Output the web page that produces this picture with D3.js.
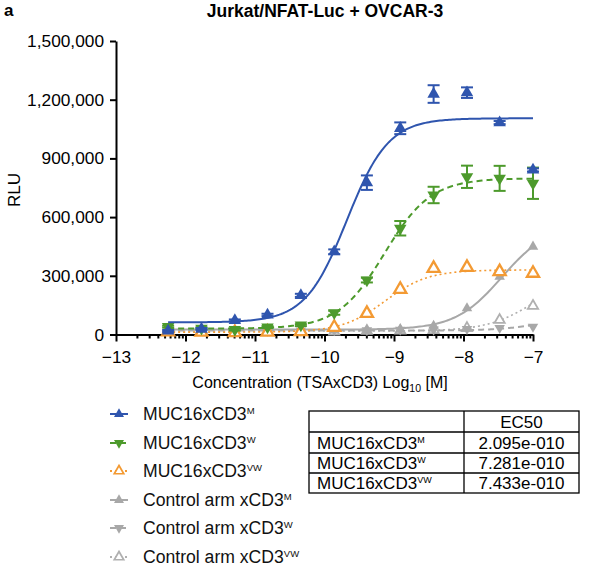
<!DOCTYPE html>
<html><head><meta charset="utf-8">
<script src="https://cdn.jsdelivr.net/npm/d3@7"></script>
<style>body{margin:0;background:#fff} svg{display:block;font-family:"Liberation Sans",Arial,Helvetica,sans-serif}</style>
</head><body><svg id="c" width="589" height="574"></svg>
<script>
// ---- data ----
const logConc = [-12.25, -11.77, -11.29, -10.82, -10.34, -9.86, -9.39, -8.91, -8.43, -7.95, -7.48, -7.00];
const seriesNames = ["MUC16xCD3", "MUC16xCD3", "MUC16xCD3", "Control arm xCD3", "Control arm xCD3", "Control arm xCD3"];
const seriesSup = ["M", "W", "VW", "M", "W", "VW"];
const mucM  = [18000, 28000, 72000, 100000, 200000, 423000, 776000, 1054000, 1229000, 1236000, 1083000, 841000];
const mucMErr = [5000, 5000, 5000, 6000, 8000, 12000, 37000, 30000, 45000, 27000, 8000, 8000];
const mucW  = [40000, 32000, 25000, 38000, 48000, 111000, 278000, 543000, 713000, 806000, 798000, 773000];
const mucWErr = [5000, 5000, 5000, 5000, 5000, 10000, 12000, 37000, 42000, 57000, 64000, 80000];
const mucVW = [14000, 12000, 10000, 12000, 15000, 37000, 108000, 231000, 338000, 343000, 321000, 313000];
const ctrlM = [20000, 20000, 18000, 18000, 20000, 22000, 22000, 25000, 45000, 134000, 295000, 449000];
const ctrlW = [22000, 22000, 20000, 20000, 20000, 22000, 22000, 24000, 25000, 28000, 33000, 40000];
const ctrlVW = [15000, 15000, 15000, 15000, 15000, 15000, 18000, 20000, 22000, 33000, 74000, 146000];
// four-parameter logistic fit parameters (per series)
const fitBottom = [62000, 30000, 12000, 25000, 20000, 18000];
const fitTop    = [1105000, 798000, 330000, 560000, 100000, 300000];
const fitLogEC50 = [-9.679, -9.138, -9.129, -7.45, -6.8, -7.0];
const fitHill   = [1.45, 1.3, 1.4, 1.3, 1.3, 1.3];
const yTicks = [0, 300000, 600000, 900000, 1200000, 1500000];
const xTicks = [-13, -12, -11, -10, -9, -8, -7];
const ec50Labels = ["2.095e-010", "7.281e-010", "7.433e-010"];

// ---- styles ----
const colors = ["#2f55ae", "#4d9a2c", "#f39a33", "#a8a8a8", "#a8a8a8", "#b0b0b0"];
const dashes = [null, "6,4", "2,3", null, "6,4", "2,3"];
const lineW = [2, 2, 1.6, 2, 2, 1.6];
const shapes = ["up", "down", "open", "up", "down", "open"];

const values = [mucM, mucW, mucVW, ctrlM, ctrlW, ctrlVW];
const errs = [mucMErr, mucWErr, null, null, null, null];

const svg = d3.select("#c");
const x = d3.scaleLinear().domain([-13, -7]).range([116, 533]);
const y = d3.scaleLinear().domain([0, 1500000]).range([334.5, 41]);

// title
svg.append("text").attr("x", 4).attr("y", 16).attr("font-weight", "bold").attr("font-size", 17).text("a");
svg.append("text").attr("x", 325).attr("y", 17).attr("text-anchor", "middle").attr("font-weight", "bold").attr("font-size", 17.5).text("Jurkat/NFAT-Luc + OVCAR-3");

// axes
svg.append("g").attr("transform", "translate(116,0)")
  .call(d3.axisLeft(y).tickValues(yTicks).tickFormat(d3.format(",")).tickSize(6).tickSizeOuter(0).tickPadding(6));
svg.append("g").attr("transform", "translate(0,334.5)")
  .call(d3.axisBottom(x).tickValues(xTicks).tickFormat(d3.format("d")).tickSize(7).tickSizeOuter(0).tickPadding(9));
const minor = [];
for (let d = -13; d < -7; d++) for (let k = 2; k <= 9; k++) minor.push(d + Math.log10(k));
svg.append("g").attr("transform", "translate(0,334.5)")
  .call(d3.axisBottom(x).tickValues(minor).tickFormat("").tickSize(4))
  .call(g => g.select(".domain").remove());
svg.selectAll(".domain, .tick line").attr("stroke", "#000").attr("stroke-width", 2);
svg.selectAll(".tick text").attr("font-size", 17.3).attr("fill", "#000");

// axis titles
svg.append("text").attr("transform", "translate(20,190) rotate(-90)").attr("text-anchor", "middle").attr("font-size", 17).text("RLU");
const xt = svg.append("text").attr("x", 320).attr("y", 388).attr("text-anchor", "middle").attr("font-size", 16);
xt.append("tspan").text("Concentration (TSAxCD3) Log");
xt.append("tspan").attr("font-size", 10.5).attr("dy", 4).text("10");
xt.append("tspan").attr("dy", -4).text(" [M]");

// curves + points, drawn back-to-front
const order = [5, 4, 3, 2, 1, 0];
const line = d3.line().x(d => x(d[0])).y(d => y(d[1]));
order.forEach(i => {
  const pts = [];
  const n = 200, x0 = logConc[0], x1 = -7;
  for (let j = 0; j <= n; j++) {
    const lx = x0 + (x1 - x0) * j / n;
    const v = fitBottom[i] + (fitTop[i] - fitBottom[i]) / (1 + Math.pow(10, (fitLogEC50[i] - lx) * fitHill[i]));
    pts.push([lx, v]);
  }
  svg.append("path").attr("d", line(pts)).attr("fill", "none").attr("stroke", colors[i])
    .attr("stroke-width", lineW[i]).attr("stroke-dasharray", dashes[i]);
  const g = svg.append("g");
  values[i].forEach((v, k) => {
    const cx = x(logConc[k]), cy = y(v);
    if (errs[i]) {
      const e = errs[i][k];
      const eg = g.append("g").attr("stroke", colors[i]).attr("stroke-width", 2);
      eg.append("line").attr("x1", cx).attr("x2", cx).attr("y1", y(v - e)).attr("y2", y(v + e));
      eg.append("line").attr("x1", cx - 6).attr("x2", cx + 6).attr("y1", y(v - e)).attr("y2", y(v - e));
      eg.append("line").attr("x1", cx - 6).attr("x2", cx + 6).attr("y1", y(v + e)).attr("y2", y(v + e));
    }
    const mg = g.append("g").attr("transform", `translate(${cx},${cy})` + (shapes[i] === "down" ? " rotate(180)" : ""));
    const side = i < 3 ? 12.5 : 10.5;
    const area = side * side * Math.sqrt(3) / 4;
    const p = mg.append("path").attr("d", d3.symbol(d3.symbolTriangle, shapes[i] === "open" ? area * 0.95 : area)());
    if (shapes[i] === "open") p.attr("fill", "#fff").attr("stroke", colors[i]).attr("stroke-width", i < 3 ? 2.3 : 1.8);
    else p.attr("fill", colors[i]);
  });
});

// legend
const legY = [414, 443, 471, 500, 528, 557];
seriesNames.forEach((name, i) => {
  const g = svg.append("g").attr("transform", `translate(0,${legY[i]})`);
  g.append("line").attr("x1", 110).attr("x2", 128).attr("y1", 0).attr("y2", 0)
    .attr("stroke", colors[i]).attr("stroke-width", 2).attr("stroke-dasharray", dashes[i]);
  const mg = g.append("g").attr("transform", "translate(119,0)" + (shapes[i] === "down" ? " rotate(180)" : ""));
  const side = 10, area = side * side * Math.sqrt(3) / 4;
  const p = mg.append("path").attr("d", d3.symbol(d3.symbolTriangle, shapes[i] === "open" ? area * 0.9 : area)());
  if (shapes[i] === "open") p.attr("fill", "#fff").attr("stroke", colors[i]).attr("stroke-width", 1.7);
  else p.attr("fill", colors[i]);
  const t = g.append("text").attr("x", 143).attr("y", 6).attr("font-size", 17.6).attr("fill", "#111");
  t.append("tspan").text(name);
  t.append("tspan").attr("font-size", 9.5).attr("dy", -6).text(seriesSup[i]);
});

// EC50 table
const tx0 = 309, tx1 = 579, tcol = 464;
const rowEdges = [411, 432, 453, 473, 493];
const tg = svg.append("g").attr("stroke", "#000").attr("stroke-width", 1.3);
tg.append("rect").attr("x", tx0).attr("y", rowEdges[0]).attr("width", tx1 - tx0).attr("height", rowEdges[4] - rowEdges[0]).attr("fill", "none");
rowEdges.slice(1, 4).forEach(r => tg.append("line").attr("x1", tx0).attr("x2", tx1).attr("y1", r).attr("y2", r));
tg.append("line").attr("x1", tcol).attr("x2", tcol).attr("y1", rowEdges[0]).attr("y2", rowEdges[4]);
svg.append("text").attr("x", (tcol + tx1) / 2).attr("y", rowEdges[1] - 4.5).attr("text-anchor", "middle").attr("font-size", 17).text("EC50");
ec50Labels.forEach((lab, k) => {
  const base = rowEdges[k + 2] - 4.5;
  const t = svg.append("text").attr("x", 317).attr("y", base).attr("font-size", 17);
  t.append("tspan").text(seriesNames[k]);
  t.append("tspan").attr("font-size", 9).attr("dy", -6).text(seriesSup[k]);
  svg.append("text").attr("x", (tcol + tx1) / 2).attr("y", base).attr("text-anchor", "middle").attr("font-size", 17).text(lab);
});
</script></body></html>
